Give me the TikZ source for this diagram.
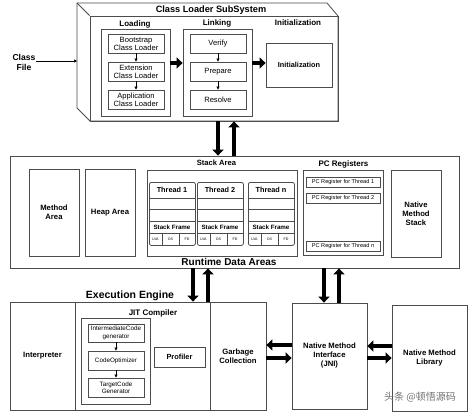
\documentclass[tikz,border=0pt]{standalone}
\usepackage{fontspec}
\setmainfont{Liberation Sans}
\newfontfamily\cjk{Noto Sans CJK SC}
\usetikzlibrary{arrows.meta}
\begin{document}
\begin{tikzpicture}[x=1pt,y=-1pt,
  box/.style={draw=black!70,line width=0.8pt,fill=white,inner sep=0pt,align=center},
  lbl/.style={inner sep=0pt,align=center,font=\bfseries\fontsize{8}{9}\selectfont},
  big/.style={inner sep=0pt,align=center,font=\bfseries\fontsize{10}{12}\selectfont},
  txt/.style={font=\fontsize{7.6}{8}\selectfont},
  btxt/.style={font=\bfseries\fontsize{7.7}{9}\selectfont},
  fat/.style={line width=4pt,-{Triangle[length=6pt,width=11pt]}},
  thin/.style={draw=black,line width=0.6pt,-{Triangle[length=3pt,width=3pt]}},
  rowline/.style={draw=black!70,line width=0.6pt}]
\useasboundingbox (0,0) rectangle (474,416);
\fill[white] (0,0) rectangle (474,416);
% faint dotted background
\foreach \gx in {4,12,...,474} {\foreach \gy in {4,12,...,416} {\fill[black!8] (\gx,\gy) circle (0.4pt);}}

% ---------------- Class Loader SubSystem ----------------
\draw[draw=black!70,line width=0.8pt,fill=white] (77,3) -- (327,3) -- (338,16) -- (338,121) -- (90,121) -- (77,108) -- cycle;
\node[draw=black!70,line width=0.8pt,minimum width=248,minimum height=105,inner sep=0pt] (clf) at (214,68.5) {};
\draw[draw=black!70,line width=0.8pt] (77,3) -- (clf.north west);
\coordinate (clin) at (77,61);
\node[big,font=\bfseries\fontsize{9.2}{11}\selectfont] (cltitle) at (211,10) {Class Loader SubSystem};

\node[box,minimum width=69,minimum height=87] (loading) at (135.5,72.5) {};
\node[lbl] (loadinglbl) at (135,24) {Loading};
\node[box,txt,minimum width=56,minimum height=19] (boot) at (136,43.5) {Bootstrap\\Class Loader};
\node[box,txt,minimum width=56,minimum height=19] (ext) at (136,71.5) {Extension\\Class Loader};
\node[box,txt,minimum width=56,minimum height=19] (app) at (136,99.5) {Application\\Class Loader};
\draw[thin] (boot) -- (ext);
\draw[thin] (ext) -- (app);

\node[box,minimum width=69,minimum height=87] (linking) at (217.5,72.5) {};
\node[lbl] (linkinglbl) at (217,23) {Linking};
\node[box,txt,minimum width=56,minimum height=19] (verify) at (218,43.5) {Verify};
\node[box,txt,minimum width=56,minimum height=19] (prepare) at (218,71.5) {Prepare};
\node[box,txt,minimum width=56,minimum height=19] (resolve) at (218,99.5) {Resolve};
\draw[thin] (verify) -- (prepare);
\draw[thin] (prepare) -- (resolve);

\node[lbl] (initlbl) at (298,23) {Initialization};
\node[box,btxt,font=\bfseries\fontsize{7.3}{9}\selectfont,minimum width=66,minimum height=44] (init) at (299,65) {Initialization};

\draw[fat] (loading.east |- 0,63) -- (linking.west |- 0,63);
\draw[fat] (linking.east |- 0,63) -- (init.west |- 0,63);

\node[lbl,font=\bfseries\fontsize{8.6}{10}\selectfont] (cfile) at (24,62) {Class\\File};
\draw[thin] (cfile.east |- clin) -- (clin);

% ---------------- Runtime Data Areas ----------------
\node[box,minimum width=449,minimum height=112] (rt) at (234.5,212) {};
\draw[fat] (clf.south -| 218,0) -- (rt.north -| 218,0);
\draw[fat] (rt.north -| 234,0) -- (clf.south -| 234,0);

\node[box,btxt,minimum width=50,minimum height=87] (method) at (54,212.5) {Method\\Area};
\node[box,btxt,minimum width=50,minimum height=87] (heap) at (110,212.5) {Heap Area};

\node[box,minimum width=150,minimum height=86] (stack) at (222,213) {};
\node[lbl,font=\bfseries\fontsize{7.6}{9}\selectfont] (stacklbl) at (216.5,163) {Stack Area};
\foreach \tx/\tt/\tn in {149/Thread 1/ta, 197/Thread 2/tb, 248/Thread n/tc} {
  \node[box,rounded corners=2pt,minimum width=46,minimum height=63,anchor=north west] (\tn) at (\tx,182) {};
  \draw[rowline] (\tx,198) -- +(46,0);
  \draw[rowline] (\tx,209) -- +(46,0);
  \draw[rowline] (\tx,221) -- +(46,0);
  \draw[rowline] (\tx,233) -- +(46,0);
  \draw[rowline] (\tx+13,233) -- (\tx+13,245);
  \draw[rowline] (\tx+30,233) -- (\tx+30,245);
  \node[inner sep=0pt,font=\bfseries\fontsize{7.3}{8}\selectfont] (\tn h) at (\tx+23,190) {\tt};
  \node[inner sep=0pt,font=\bfseries\fontsize{6.2}{7}\selectfont] (\tn s) at (\tx+23,227) {Stack Frame};
  \node[inner sep=0pt,font=\fontsize{3.6}{4}\selectfont] (\tn a) at (\tx+6.5,239) {LVA};
  \node[inner sep=0pt,font=\fontsize{3.6}{4}\selectfont] (\tn b) at (\tx+21.5,239) {OS};
  \node[inner sep=0pt,font=\fontsize{3.6}{4}\selectfont] (\tn c) at (\tx+38,239) {FD};
}

\node[box,minimum width=80,minimum height=85] (pc) at (343,212.5) {};
\node[lbl] (pclbl) at (343.5,164) {PC Registers};
\node[box,font=\fontsize{5.6}{6}\selectfont,minimum width=74,minimum height=10] (pc1) at (343,182) {PC Register for Thread 1};
\node[box,font=\fontsize{5.6}{6}\selectfont,minimum width=74,minimum height=10] (pc2) at (343,198) {PC Register for Thread 2};
\node[box,font=\fontsize{5.6}{6}\selectfont,minimum width=74,minimum height=10] (pcn) at (343,246) {PC Register for Thread n};

\node[box,btxt,minimum width=50,minimum height=87] (nms) at (416,213.5) {Native\\Method\\Stack};

\node[big] (rtlbl) at (229,262) {Runtime Data Areas};

% ---------------- Execution Engine ----------------
\node[box,btxt,minimum width=65,minimum height=108] (interp) at (42.5,356) {Interpreter};
\node[box,minimum width=135,minimum height=108] (jit) at (142.5,356) {};
\node[box,btxt,minimum width=56,minimum height=108] (gc) at (238,356) {Garbage\\Collection};
\node[big,font=\bfseries\fontsize{10.5}{12}\selectfont] (eelbl) at (130,296) {Execution Engine};
\node[lbl] (jitlbl) at (153,313) {JIT Compiler};

\node[box,minimum width=69,minimum height=86] (jitin) at (115.5,361) {};
\node[box,font=\fontsize{6.3}{7.5}\selectfont,minimum width=56,minimum height=18] (icg) at (116,333) {IntermediateCode\\generator};
\node[box,font=\fontsize{6.3}{7.5}\selectfont,minimum width=56,minimum height=19] (copt) at (116,360.5) {CodeOptimizer};
\node[box,font=\fontsize{6.3}{7.5}\selectfont,minimum width=56,minimum height=19] (tcg) at (116,387.5) {TargetCode\\Generator};
\draw[thin] (icg) -- (copt);
\draw[thin] (copt) -- (tcg);
\node[box,btxt,font=\bfseries\fontsize{7.4}{9}\selectfont,minimum width=51,minimum height=20] (prof) at (179.5,357) {Profiler};

\draw[fat] (rt.south -| 193,0) -- (jit.north -| 193,0);
\draw[fat] (jit.north -| 208,0) -- (rt.south -| 208,0);

\node[box,btxt,minimum width=75,minimum height=106] (jni) at (329.5,356) {Native Method\\Interface\\(JNI)};
\node[box,btxt,minimum width=75,minimum height=106] (lib) at (429.5,358) {Native Method\\Library};

\draw[fat] (rt.south -| 324,0) -- (jni.north -| 324,0);
\draw[fat] (jni.north -| 339,0) -- (rt.south -| 339,0);

\draw[fat] (jni.west |- 0,345) -- (gc.east |- 0,345);
\draw[fat] (gc.east |- 0,358) -- (jni.west |- 0,358);
\draw[fat] (lib.west |- 0,346) -- (jni.east |- 0,346);
\draw[fat] (jni.east |- 0,358) -- (lib.west |- 0,358);

\node[inner sep=0pt,text=black!55,font=\cjk\fontsize{10}{12}\selectfont] (wm) at (420,397) {头条 @顿悟源码};
\end{tikzpicture}
\end{document}
